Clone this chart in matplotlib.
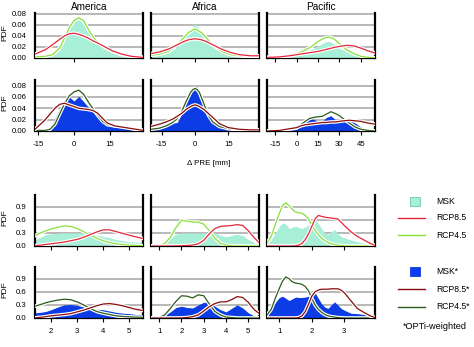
import matplotlib
matplotlib.use('Agg')
import matplotlib.pyplot as plt
import matplotlib.patheffects as pe
from matplotlib.lines import Line2D
from matplotlib.patches import Rectangle

plt.rcParams['font.family'] = ['Liberation Sans', 'DejaVu Sans']

# ---- top block: delta PRE [mm] ----
america_pre_x = [-16.3, -12, -9, -6, -4, -2, 0, 2, 4, 6, 8, 10, 13, 16, 20, 24, 29]
america_pre_msk = [0.001, 0.002, 0.004, 0.014, 0.032, 0.052, 0.066, 0.070, 0.062, 0.048,
                   0.036, 0.027, 0.019, 0.012, 0.006, 0.003, 0.001]
america_pre_rcp85 = [0.007, 0.015, 0.024, 0.034, 0.040, 0.044, 0.045, 0.043, 0.040, 0.036,
                     0.031, 0.027, 0.020, 0.013, 0.007, 0.003, 0.001]
america_pre_rcp45 = [0.002, 0.003, 0.006, 0.018, 0.036, 0.055, 0.068, 0.073, 0.068, 0.052,
                     0.038, 0.028, 0.019, 0.012, 0.006, 0.003, 0.001]

america_prew_x = [-16.3, -12, -10, -8, -6, -4, -2, 0, 2, 4, 6, 8, 10, 12, 14, 17, 20, 23, 26, 29]
america_prew_msk = [0, 0, 0.004, 0.022, 0.040, 0.052, 0.060, 0.053, 0.061, 0.052, 0.042,
                    0.039, 0.033, 0.020, 0.011, 0.009, 0.008, 0.006, 0.003, 0.001]
america_prew_rcp85 = [0.003, 0.020, 0.030, 0.040, 0.047, 0.049, 0.046, 0.043, 0.040, 0.039,
                      0.038, 0.036, 0.031, 0.022, 0.014, 0.009, 0.007, 0.005, 0.003, 0.001]
america_prew_rcp45 = [0.001, 0.001, 0.003, 0.012, 0.030, 0.048, 0.062, 0.069, 0.072, 0.065,
                      0.051, 0.039, 0.027, 0.017, 0.011, 0.009, 0.008, 0.006, 0.003, 0.001]

africa_pre_x = [-19.8, -16, -12, -8, -5, -3, 0, 3, 5, 8, 12, 16, 20, 25, 29]
africa_pre_msk = [0.003, 0.005, 0.009, 0.020, 0.035, 0.048, 0.062, 0.048, 0.035, 0.020,
                  0.009, 0.005, 0.003, 0.002, 0.002]
africa_pre_rcp85 = [0.008, 0.011, 0.016, 0.024, 0.030, 0.033, 0.035, 0.033, 0.030, 0.024,
                    0.016, 0.010, 0.006, 0.004, 0.004]
africa_pre_rcp45 = [0.005, 0.007, 0.012, 0.024, 0.037, 0.046, 0.053, 0.046, 0.037, 0.024,
                    0.012, 0.006, 0.004, 0.003, 0.003]

africa_prew_x = [-19.8, -16, -13, -10, -8, -6, -4, -2, -1, 0, 1, 2, 4, 6, 8, 11, 15, 20, 25, 29]
africa_prew_msk = [0.003, 0.006, 0.010, 0.014, 0.015, 0.030, 0.050, 0.068, 0.075, 0.079,
                   0.077, 0.070, 0.045, 0.024, 0.014, 0.009, 0.004, 0.002, 0.002, 0.002]
africa_prew_rcp85 = [0.008, 0.012, 0.016, 0.021, 0.026, 0.031, 0.038, 0.043, 0.045, 0.046,
                     0.045, 0.043, 0.038, 0.031, 0.024, 0.013, 0.006, 0.003, 0.002, 0.002]
africa_prew_rcp45 = [0.003, 0.005, 0.009, 0.015, 0.022, 0.034, 0.052, 0.068, 0.073, 0.075,
                     0.073, 0.068, 0.048, 0.028, 0.016, 0.008, 0.004, 0.002, 0.002, 0.002]

pacific_pre_x = [-21, -12, -5, 0, 5, 10, 15, 20, 23, 26, 30, 35, 40, 45, 50, 55]
pacific_pre_msk = [0.001, 0.002, 0.004, 0.007, 0.010, 0.015, 0.022, 0.029, 0.030, 0.026,
                   0.018, 0.011, 0.006, 0.003, 0.001, 0.0005]
pacific_pre_rcp85 = [0.001, 0.002, 0.004, 0.006, 0.008, 0.010, 0.012, 0.015, 0.017, 0.019,
                     0.021, 0.023, 0.022, 0.018, 0.013, 0.009]
pacific_pre_rcp45 = [0.001, 0.002, 0.005, 0.008, 0.013, 0.020, 0.030, 0.037, 0.038, 0.035,
                     0.026, 0.015, 0.008, 0.003, 0.001, 0.0005]

pacific_prew_x = [-21, -12, -5, 0, 3, 6, 9, 12, 15, 18, 21, 24, 27, 30, 33, 37, 41, 45, 50, 55]
pacific_prew_msk = [0, 0, 0.001, 0.003, 0.009, 0.017, 0.023, 0.021, 0.016, 0.018, 0.024,
                    0.027, 0.020, 0.017, 0.017, 0.019, 0.014, 0.007, 0.001, 0]
pacific_prew_rcp85 = [0, 0.001, 0.004, 0.006, 0.009, 0.011, 0.012, 0.013, 0.014, 0.015, 0.015,
                      0.016, 0.016, 0.017, 0.018, 0.019, 0.018, 0.017, 0.014, 0.012]
pacific_prew_rcp45 = [0, 0.001, 0.004, 0.007, 0.011, 0.017, 0.022, 0.024, 0.025, 0.026, 0.030,
                      0.034, 0.031, 0.027, 0.021, 0.014, 0.007, 0.003, 0.001, 0]

# ---- bottom block ----
america_b_x = [1.38, 1.6, 1.8, 2.0, 2.25, 2.5, 2.75, 3.0, 3.25, 3.5, 3.75, 4.0, 4.25, 4.5,
               4.75, 5.0, 5.25, 5.55]
america_b_msk = [0.14, 0.20, 0.26, 0.28, 0.29, 0.30, 0.30, 0.30, 0.29, 0.27, 0.25, 0.22,
                 0.19, 0.15, 0.12, 0.10, 0.09, 0.08]
america_b_rcp85 = [0.008, 0.02, 0.035, 0.05, 0.07, 0.09, 0.12, 0.15, 0.20, 0.26, 0.32, 0.37,
                   0.37, 0.33, 0.29, 0.25, 0.21, 0.17]
america_b_rcp45 = [0.237, 0.30, 0.35, 0.39, 0.43, 0.46, 0.45, 0.40, 0.33, 0.25, 0.18, 0.12,
                   0.08, 0.05, 0.03, 0.02, 0.012, 0.008]
america_bw_msk = [0.12, 0.13, 0.15, 0.19, 0.25, 0.30, 0.31, 0.29, 0.25, 0.21, 0.20, 0.19,
                  0.16, 0.13, 0.11, 0.10, 0.08, 0.07]
america_bw_rcp85 = [0.005, 0.015, 0.03, 0.05, 0.065, 0.08, 0.10, 0.14, 0.18, 0.23, 0.28, 0.32,
                    0.33, 0.31, 0.28, 0.24, 0.20, 0.17]
america_bw_rcp45 = [0.27, 0.31, 0.35, 0.38, 0.41, 0.43, 0.42, 0.37, 0.30, 0.22, 0.15, 0.11,
                    0.08, 0.05, 0.035, 0.025, 0.02, 0.015]

africa_b_x = [0.63, 1.0, 1.25, 1.5, 1.75, 2.0, 2.25, 2.5, 2.75, 3.0, 3.25, 3.5, 3.75, 4.0,
              4.25, 4.5, 4.75, 5.0, 5.25, 5.5]
africa_b_msk = [0, 0.02, 0.08, 0.18, 0.27, 0.30, 0.30, 0.30, 0.30, 0.30, 0.30, 0.29, 0.25,
                0.21, 0.24, 0.27, 0.24, 0.15, 0.08, 0.02]
africa_b_rcp85 = [0, 0, 0, 0, 0.003, 0.006, 0.012, 0.02, 0.05, 0.13, 0.28, 0.40, 0.45, 0.46,
                  0.47, 0.49, 0.47, 0.35, 0.20, 0.07]
africa_b_rcp45 = [0, 0.01, 0.06, 0.20, 0.42, 0.59, 0.57, 0.55, 0.55, 0.50, 0.35, 0.18, 0.06,
                  0.02, 0.005, 0, 0, 0, 0, 0]
africa_bw_msk = [0, 0.01, 0.06, 0.14, 0.24, 0.27, 0.24, 0.23, 0.30, 0.36, 0.35, 0.27, 0.19,
                 0.14, 0.22, 0.30, 0.23, 0.12, 0.05, 0.01]
africa_bw_rcp85 = [0, 0, 0, 0, 0, 0.003, 0.01, 0.03, 0.07, 0.16, 0.26, 0.33, 0.37, 0.37,
                   0.42, 0.49, 0.47, 0.36, 0.20, 0.10]
africa_bw_rcp45 = [0, 0.01, 0.07, 0.22, 0.38, 0.51, 0.50, 0.46, 0.53, 0.51, 0.32, 0.15, 0.07,
                   0.02, 0.01, 0, 0, 0, 0, 0]

pacific_b_x = [0.61, 0.75, 0.9, 1.0, 1.1, 1.2, 1.3, 1.4, 1.5, 1.6, 1.7, 1.8, 1.9, 2.0, 2.1,
               2.2, 2.3, 2.4, 2.5, 2.6, 2.7, 2.8, 2.9, 3.0, 3.2, 3.4, 3.6, 3.8, 3.95]
pacific_b_msk = [0.02, 0.15, 0.33, 0.45, 0.53, 0.50, 0.40, 0.43, 0.46, 0.42, 0.40, 0.44, 0.48,
                 0.55, 0.60, 0.52, 0.40, 0.30, 0.26, 0.33, 0.38, 0.28, 0.22, 0.19, 0.14, 0.10,
                 0.06, 0.02, 0]
pacific_b_rcp85 = [0, 0, 0, 0, 0, 0, 0, 0, 0.005, 0.02, 0.06, 0.15, 0.28, 0.45, 0.62, 0.70,
                   0.68, 0.66, 0.65, 0.64, 0.63, 0.62, 0.55, 0.47, 0.33, 0.22, 0.14, 0.06, 0.01]
pacific_b_rcp45 = [0.06, 0.22, 0.55, 0.75, 0.93, 0.99, 0.92, 0.84, 0.78, 0.76, 0.75, 0.70, 0.62,
                   0.48, 0.36, 0.26, 0.18, 0.12, 0.08, 0.05, 0.03, 0.02, 0.01, 0.005, 0, 0, 0,
                   0, 0]
pacific_bw_msk = [0.05, 0.20, 0.38, 0.47, 0.50, 0.45, 0.40, 0.44, 0.48, 0.47, 0.47, 0.48, 0.50,
                  0.55, 0.58, 0.45, 0.33, 0.25, 0.22, 0.30, 0.37, 0.30, 0.22, 0.18, 0.11, 0.10,
                  0.08, 0.03, 0]
pacific_bw_rcp85 = [0, 0, 0, 0, 0, 0, 0, 0, 0, 0.01, 0.05, 0.15, 0.32, 0.50, 0.60, 0.64, 0.66,
                    0.66, 0.66, 0.67, 0.67, 0.67, 0.64, 0.58, 0.40, 0.22, 0.13, 0.05, 0.01]
pacific_bw_rcp45 = [0.06, 0.20, 0.50, 0.68, 0.85, 0.94, 0.90, 0.83, 0.80, 0.79, 0.77, 0.72, 0.62,
                    0.45, 0.30, 0.20, 0.13, 0.08, 0.05, 0.03, 0.02, 0.01, 0.005, 0, 0, 0, 0,
                    0, 0]

regions = ['America', 'Africa', 'Pacific']
pre_ticks = [[0], [-15, 0, 15], [-15, 0, 15, 30, 45]]
pre_ticks_w = [[-15, 0, 15], [-15, 0, 15], [-15, 0, 15, 30, 45]]
b_ticks = [[2, 3, 4, 5], [1, 2, 3, 4, 5], [1, 2, 3]]

# colours
C_MSK = '#a8efd8'
C_85 = '#e5263a'
C_45 = '#88e03a'
C_MSKW = '#0b3ce6'
C_85W = '#8a0c0c'
C_45W = '#2c5c1c'
GRID = '#a4a4a4'

fig = plt.figure(figsize=(4.74, 3.47), dpi=100)

col_left = [35 / 474, 151 / 474, 266.7 / 474]
col_w = 108.4 / 474
rows = [(0.8329, 0.1300), (0.6225, 0.1470), (0.2911, 0.1470), (0.0836, 0.1470)]


def draw_panel(ax, x, msk, r85, r45, weighted, ylim, grid, ticks, tick_labels):
    for g in grid:
        ax.axhline(g, color=GRID, lw=1.1, zorder=1)
    ax.fill_between(x, 0, msk, color=C_MSKW if weighted else C_MSK, lw=0, zorder=2)
    halo = [pe.Stroke(linewidth=2.6, foreground='white'), pe.Normal()]
    ax.plot(x, r45, color=C_45W if weighted else C_45, lw=0.9, path_effects=halo, zorder=3)
    ax.plot(x, r85, color=C_85W if weighted else C_85, lw=0.9, path_effects=halo, zorder=4)
    ax.set_xlim(x[0], x[-1])
    ax.set_ylim(*ylim)
    ax.spines['top'].set_visible(False)
    for s in ['left', 'right']:
        ax.spines[s].set_linewidth(1.6)
        ax.spines[s].set_color('black')
    ax.spines['bottom'].set_linewidth(0.9)
    ax.set_xticks(ticks)
    if tick_labels:
        ax.set_xticklabels([str(t) for t in ticks])
    else:
        ax.set_xticklabels([])
    ax.tick_params(axis='x', length=3, width=0.8, pad=4.5, labelsize=5.6)
    ax.tick_params(axis='y', length=0, pad=6, labelsize=5.6)


panels = [
    [(america_pre_x, america_pre_msk, america_pre_rcp85, america_pre_rcp45),
     (africa_pre_x, africa_pre_msk, africa_pre_rcp85, africa_pre_rcp45),
     (pacific_pre_x, pacific_pre_msk, pacific_pre_rcp85, pacific_pre_rcp45)],
    [(america_prew_x, america_prew_msk, america_prew_rcp85, america_prew_rcp45),
     (africa_prew_x, africa_prew_msk, africa_prew_rcp85, africa_prew_rcp45),
     (pacific_prew_x, pacific_prew_msk, pacific_prew_rcp85, pacific_prew_rcp45)],
    [(america_b_x, america_b_msk, america_b_rcp85, america_b_rcp45),
     (africa_b_x, africa_b_msk, africa_b_rcp85, africa_b_rcp45),
     (pacific_b_x, pacific_b_msk, pacific_b_rcp85, pacific_b_rcp45)],
    [(america_b_x, america_bw_msk, america_bw_rcp85, america_bw_rcp45),
     (africa_b_x, africa_bw_msk, africa_bw_rcp85, africa_bw_rcp45),
     (pacific_b_x, pacific_bw_msk, pacific_bw_rcp85, pacific_bw_rcp45)],
]

for r in range(4):
    bottom, height = rows[r]
    weighted = r in (1, 3)
    if r < 2:
        ylim = (0, 0.082) if r == 0 else (0, 0.09)
        grid = [0.02, 0.04, 0.06, 0.08]
        yt = [0.0, 0.02, 0.04, 0.06, 0.08]
        ylab = ['0.00', '0.02', '0.04', '0.06', '0.08']
        ticks = pre_ticks if r == 0 else pre_ticks_w
    else:
        ylim = (0, 1.17)
        grid = [0.3, 0.6, 0.9]
        yt = [0.0, 0.3, 0.6, 0.9]
        ylab = ['0.0', '0.3', '0.6', '0.9']
        ticks = b_ticks
    for c in range(3):
        ax = fig.add_axes([col_left[c], bottom, col_w, height])
        x, msk, r85, r45 = panels[r][c]
        draw_panel(ax, x, msk, r85, r45, weighted, ylim, grid, ticks[c], r in (1, 3))
        ax.set_yticks(yt)
        if c == 0:
            ax.set_yticklabels(ylab)
            ax.set_ylabel('PDF', fontsize=6)
            ax.yaxis.set_label_coords(-0.25, 0.55)
        else:
            ax.set_yticklabels([])
        if r == 0:
            ax.set_title(regions[c], fontsize=7.2, pad=2)

fig.text(208.7 / 474, 1 - 163.3 / 347, u'\u0394 PRE [mm]', ha='center', va='center', fontsize=5.8)


# legend drawn in figure pixels
def fx(px):
    return px / 474


def fy(py):
    return 1 - py / 347


legend_items = [('patch', C_MSK, '#6cc8a8', 'MSK', 201.5),
                ('line', C_85, None, 'RCP8.5', 217.7),
                ('line', C_45, None, 'RCP4.5', 235.0),
                ('patch', C_MSKW, C_MSKW, 'MSK*', 271.5),
                ('line', C_85W, None, 'RCP8.5*', 289.0),
                ('line', C_45W, None, 'RCP4.5*', 306.7)]
for kind, col, edge, label, py in legend_items:
    if kind == 'patch':
        fig.add_artist(Rectangle((fx(409.5), fy(py + 4.5)), 10 / 474, 9 / 347,
                                 facecolor=col, edgecolor=edge, lw=0.6,
                                 transform=fig.transFigure))
    else:
        fig.add_artist(Line2D([fx(398), fx(425)], [fy(py), fy(py)], color=col, lw=1.0,
                              transform=fig.transFigure))
    fig.text(fx(436.7), fy(py), label, ha='left', va='center', fontsize=6.2)
fig.text(fx(403), fy(326.7), '*OPTi-weighted', ha='left', va='center', fontsize=6.6)

fig.savefig('out.png', dpi=100)
